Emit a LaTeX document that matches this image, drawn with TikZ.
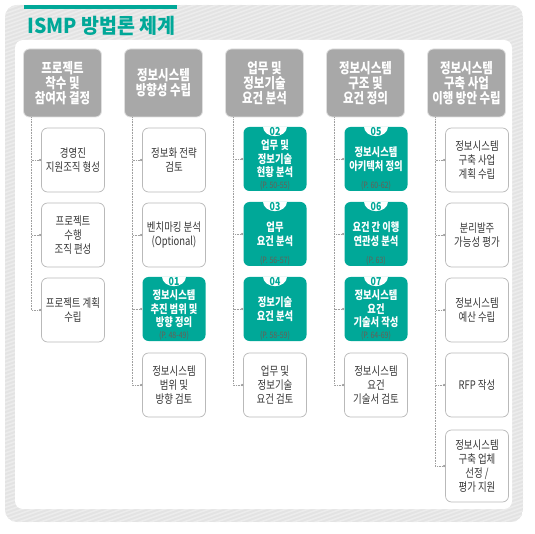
\documentclass[tikz,border=0pt]{standalone}
\usepackage{fontspec}
\setmainfont{Noto Sans CJK KR}[FakeStretch=0.8]
\newfontfamily\titlefont{Noto Sans CJK KR}[FakeStretch=0.95]
\usetikzlibrary{arrows.meta}

\definecolor{ismpteal}{HTML}{00A898}
\definecolor{headgray}{HTML}{A8A8A8}
\definecolor{panelgray}{HTML}{E3E3E3}
\definecolor{stripegray}{HTML}{ECECEC}
\definecolor{pagebrown}{HTML}{6A5D55}
\definecolor{txtgray}{HTML}{383838}

\tikzset{
  head/.style={fill=headgray, draw=gray!25, line width=0.8pt, rounded corners=6pt,
    minimum width=78pt, minimum height=68pt, align=center, inner sep=0.5pt,
    text=white, font=\fontsize{14.3}{15.2}\selectfont\bfseries},
  task/.style={fill=white, draw=gray!55, line width=0.7pt, rounded corners=6pt,
    minimum width=63pt, minimum height=64pt, align=center, inner sep=0.5pt,
    text=txtgray, font=\fontsize{11.8}{14}\selectfont},
  core/.style={task, fill=ismpteal, draw=none, text=white,
    font=\fontsize{11.6}{13.5}\selectfont\bfseries},
  tabnum/.style={inner sep=0pt, text=ismpteal, font=\fontsize{11}{11}\selectfont\bfseries},
  pageref/.style={inner sep=0pt, text=pagebrown, font=\fontsize{8.8}{9}\selectfont},
  link/.style={draw=gray!75, densely dotted, line width=0.6pt, -{Circle[length=2.2pt]}}
}

\begin{document}
\begin{tikzpicture}[x=1pt, y=1pt]
\useasboundingbox (0,0) rectangle (535,-534);

% Striped panel
\begin{scope}
  \clip[rounded corners=12pt] (5,-5) rectangle (523,-522);
  \fill[panelgray] (5,-5) rectangle (523,-522);
  \foreach \s in {0,11,...,2100}
    \draw[stripegray, line width=1.6pt] (\s-1500,-530) -- (\s,0);
\end{scope}

% Title
\fill[ismpteal] (24,-5) rectangle (177,-9.5);
\node[anchor=west, inner sep=0pt, text=ismpteal, font=\titlefont\fontsize{20.5}{22}\selectfont\bfseries]
  (title) at (27,-26) {ISMP 방법론 체계};

\fill[white, rounded corners=8pt] (15,-40) rectangle (512,-509);

% Column headers
\foreach \col/\txt in {1/{프로젝트\\착수 및\\참여자 결정}, 2/{정보시스템\\방향성 수립},
    3/{업무 및\\정보기술\\요건 분석}, 4/{정보시스템\\구조 및\\요건 정의},
    5/{정보시스템\\구축 사업\\이행 방안 수립}}
  \node[head] (h\col) at ({62.5+101*(\col-1)}, -83) {\txt};

% Plain tasks
\foreach \col/\row/\txt in {1/1/{경영진\\지원조직 형성}, 1/2/{프로젝트\\수행\\조직 편성},
    1/3/{프로젝트 계획\\수립}, 2/1/{정보화 전략\\검토}, 2/2/{벤치마킹 분석\\(Optional)},
    2/4/{정보시스템\\범위 및\\방향 검토}, 3/4/{업무 및\\정보기술\\요건 검토},
    4/4/{정보시스템\\요건\\기술서 검토}, 5/1/{정보시스템\\구축 사업\\계획 수립},
    5/2/{분리발주\\가능성 평가}, 5/3/{정보시스템\\예산 수립}, 5/4/{RFP 작성}}
  \node[task] (b\col\row) at ({73+101*(\col-1)}, {-160-75*(\row-1)}) {\txt};
\node[task, minimum height=72pt] (b55) at (477,-466) {정보시스템\\구축 업체\\선정 /\\평가 지원};

% Numbered tasks
\foreach \col/\row/\num/\txt/\pg in {2/3/01/{정보시스템\\추진 범위 및\\방향 정의}/48-49,
    3/1/02/{업무 및\\정보기술\\현황 분석}/50-55, 3/2/03/{업무\\요건 분석}/56-57,
    3/3/04/{정보기술\\요건 분석}/58-59, 4/1/05/{정보시스템\\아키텍처 정의}/60-62,
    4/2/06/{요건 간 이행\\연관성 분석}/63, 4/3/07/{정보시스템\\요건\\기술서 작성}/64-69}
{
  \node[core] (b\col\row) at ({73+101*(\col-1)}, {-159-75*(\row-1)}) {\txt};
  \fill[white] ([xshift=-12pt]b\col\row.north)
    arc[start angle=180, end angle=360, x radius=12pt, y radius=9.5pt] -- cycle;
  \node[tabnum] (n\col\row) at ([yshift=-5pt]b\col\row.north) {\num};
  \node[pageref] (p\col\row) at ([yshift=5.5pt]b\col\row.south) {(P. \pg)};
}

% Links
\foreach \col/\row in {1/1,1/2,1/3,2/1,2/2,2/3,2/4,3/1,3/2,3/3,3/4,
    4/1,4/2,4/3,4/4,5/1,5/2,5/3,5/4,5/5}
  \draw[link] ([xshift=8pt]h\col.south west) |- (b\col\row.west);

\end{tikzpicture}
\end{document}
